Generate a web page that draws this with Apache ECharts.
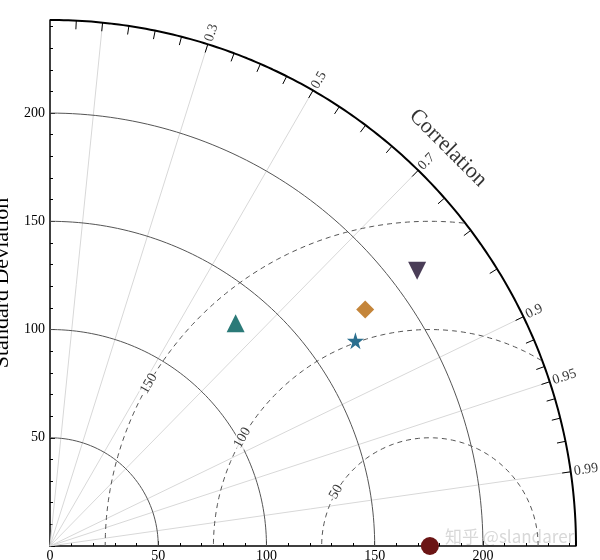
<!DOCTYPE html>
<html>
<head>
<meta charset="utf-8">
<script src="https://cdn.jsdelivr.net/npm/echarts@6/dist/echarts.min.js"></script>
<style>html,body{margin:0;background:#fff}#c{width:600px;height:560px}</style>
</head>
<body>
<div id="c"></div>
<script>
/* Taylor diagram */
const MAX_STD = 243;
const REF_STD = 175.5;
const stdArcs = [50, 100, 150, 200];
const rmsArcs = [50, 100, 150];
const corrLines = [0.1, 0.3, 0.5, 0.7, 0.9, 0.95, 0.99];
const corrTicks = [0.05, 0.1, 0.15, 0.2, 0.25, 0.3, 0.35, 0.4, 0.45, 0.5, 0.55, 0.6, 0.65, 0.7, 0.75, 0.8, 0.85, 0.9, 0.92, 0.94, 0.95, 0.96, 0.97, 0.98, 0.99];

const modelNames = ["A", "B", "C", "D"];
const modelStd = [134, 182, 170, 212];
const modelCorr = [0.64, 0.80, 0.83, 0.80];
const modelSymbols = ["triangle", "diamond", "path://M50,0 L61,35 L98,35 L68,57 L79,91 L50,70 L21,91 L32,57 L2,35 L39,35 Z", "triangle"];
const modelRotate = [0, 0, 0, 180];
const modelSizes = [18, 18, 17, 18];
const modelColors = ["#2b7a78", "#c4853a", "#2b6f8f", "#4a3d57"];

const rad = Math.PI / 180;
function polar(r, c) { return [r * c, r * Math.sqrt(1 - c * c)]; }

function lineSeries(data, color, width, type) {
  return { type: "line", data, showSymbol: false, symbol: "none", silent: true,
    lineStyle: { color, width, type: type || "solid" }, connectNulls: false, animation: false, z: 1 };
}

const series = [];
// radial correlation lines
corrLines.forEach(c => series.push(lineSeries([[0, 0], polar(MAX_STD, c)], "#d8d8d8", 1)));
// std arcs
stdArcs.forEach(s => {
  const pts = [];
  for (let a = 0; a <= 90; a += 1) pts.push([s * Math.cos(a * rad), s * Math.sin(a * rad)]);
  series.push(lineSeries(pts, "#555", 1));
});
// outer arc
const outer = [];
for (let a = 0; a <= 90; a += 0.5) outer.push([MAX_STD * Math.cos(a * rad), MAX_STD * Math.sin(a * rad)]);
series.push(lineSeries(outer, "#000", 2));
// outer ticks
const ticks = [];
corrTicks.forEach(c => { ticks.push(polar(MAX_STD, c), polar(MAX_STD - 4, c), null); });
series.push(lineSeries(ticks, "#000", 1));
// rms arcs
rmsArcs.forEach(r => {
  const pts = [];
  for (let a = 0; a <= 180; a += 1) {
    const x = REF_STD + r * Math.cos(a * rad), y = r * Math.sin(a * rad);
    pts.push(Math.hypot(x, y) <= MAX_STD && x >= 0 ? [x, y] : null);
  }
  series.push(lineSeries(pts, "#555", 1, [5, 4]));
});
// rms labels
series.push({
  type: "scatter", symbolSize: 0, silent: true, animation: false, z: 3,
  data: rmsArcs.map(r => ({ value: [REF_STD + r * Math.cos(150 * rad), r * Math.sin(150 * rad)],
    label: { show: true, formatter: String(r), rotate: 60, position: "inside",
      fontFamily: "Liberation Serif", fontSize: 14, color: "#000", backgroundColor: "#fff", padding: [0, 1] } }))
});
// correlation labels
series.push({
  type: "scatter", symbolSize: 0, silent: true, animation: false, z: 3,
  data: corrLines.map(c => {
    const ang = Math.acos(c) / rad;
    return { value: polar(MAX_STD + 1.5, c),
      label: { show: true, formatter: String(c), rotate: ang, position: "inside", align: "left",
        verticalAlign: "middle", fontFamily: "Liberation Serif", fontSize: 14, color: "#000" } };
  }).concat([{ value: [260 * Math.cos(45 * rad), 260 * Math.sin(45 * rad)],
    label: { show: true, formatter: "Correlation", rotate: -45, position: "inside",
      fontFamily: "Liberation Serif", fontSize: 22, color: "#000" } }])
});
// models
modelNames.forEach((n, i) => series.push({
  type: "scatter", name: n, data: [polar(modelStd[i], modelCorr[i])], symbol: modelSymbols[i],
  symbolRotate: modelRotate[i], symbolSize: modelSizes[i],
  itemStyle: { color: modelColors[i], opacity: 1 }, z: 5, animation: false
}));
// reference
series.push({ type: "scatter", name: "Ref", data: [[REF_STD, 0]], symbol: "circle", symbolSize: 18,
  itemStyle: { color: "#6b1515", opacity: 1 }, z: 6, animation: false });

const axisCommon = {
  type: "value", min: 0, max: MAX_STD, interval: 50,
  axisLine: { show: true, lineStyle: { color: "#000", width: 1.5 } },
  axisTick: { show: true, inside: true, length: 5, lineStyle: { color: "#000" } },
  minorTick: { show: true, splitNumber: 5, length: 3, lineStyle: { color: "#000" } },
  splitLine: { show: false },
  axisLabel: { showMaxLabel: false, fontFamily: "Liberation Serif", fontSize: 14, color: "#000" }
};

const chart = echarts.init(document.getElementById("c"));
chart.setOption({
  backgroundColor: "#fff",
  grid: { left: 50, right: 24, top: 20, bottom: 14, containLabel: false, outerBoundsMode: "none" },
  xAxis: Object.assign({}, axisCommon, { axisLabel: Object.assign({}, axisCommon.axisLabel, { margin: 3 }) }),
  yAxis: Object.assign({}, axisCommon, {
    name: "Standard Deviation", nameLocation: "middle", nameGap: 30,
    nameTextStyle: { fontFamily: "Liberation Serif", fontSize: 22, color: "#000" },
    axisLabel: Object.assign({}, axisCommon.axisLabel, { showMinLabel: false, margin: 5 })
  }),
  graphic: [{ type: "text", left: 445, top: 528,
    style: { text: "知乎 @slandarer", fontFamily: "Noto Sans CJK SC", fontSize: 17, fill: "rgba(200,200,200,0.7)" } }],
  series
});
</script>
</body>
</html>
